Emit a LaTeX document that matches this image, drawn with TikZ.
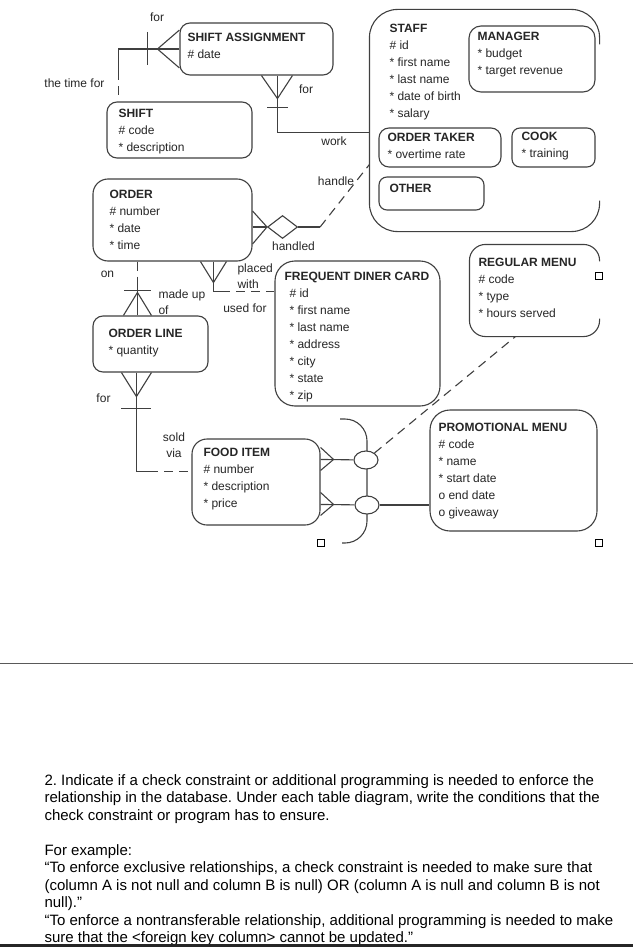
\documentclass[tikz,border=0pt]{standalone}
\usepackage{fontspec}
\setmainfont{Liberation Sans}
\usetikzlibrary{shapes,positioning,calc}
\newcommand{\myLineColor}{black!75}
\newcommand{\myTextColor}{black!85}
\frenchspacing

\begin{document}
\begin{tikzpicture}[x=1pt,y=-1pt,line width=1.1pt,
	Entity/.style={rectangle,rounded corners=10pt,draw=\myLineColor,fill=white,inner sep=0pt},
	Attr/.style={anchor=north west,inner sep=0pt,align=left,text=\myTextColor,font=\fontsize{12}{17}\selectfont},
	Link/.style={-,draw=\myLineColor,line width=1.1pt},
	OptLink/.style={Link,dash pattern=on 9pt off 6pt},
	RelLabel/.style={inner sep=0pt,text=\myTextColor,font=\fontsize{12}{16}\selectfont},
	NonTransfer/.style={diamond,draw=\myLineColor,fill=white,minimum width=30pt,minimum height=23pt,inner sep=0pt},
	ArcMark/.style={ellipse,draw=\myLineColor,fill=white,minimum width=24pt,minimum height=18pt,inner sep=0pt},
	Handle/.style={rectangle,draw=black,fill=white,line width=0.8pt,minimum size=6.5pt,inner sep=0pt},
]
	\useasboundingbox (0,0) rectangle (633,947);
	%\draw[help lines,step=50,gray!20] (0,0) grid (633,947);

	% entities
	\node[Entity,minimum width=153pt,minimum height=52pt] (shiftasg) at (256.5,49) {};
	\node[Entity,minimum width=145pt,minimum height=56pt] (shift) at (179.5,130) {};
	\node[Entity,draw=none,fill=none,minimum width=229pt,minimum height=221pt] (staff) at (484.5,120.5) {};
	\draw[Link,rounded corners=28pt] ($(staff.north east)+(0,35)$) -- (staff.north east) -- (staff.north west)
		-- (staff.south west) -- (staff.south east) -- ($(staff.south east)+(0,-31)$);
	\node[Entity,rounded corners=12pt,minimum width=126pt,minimum height=66pt] (manager) at (532,59) {};
	\node[Entity,minimum width=122pt,minimum height=39pt] (ordertaker) at (440,147.5) {};
	\node[Entity,rounded corners=8pt,minimum width=83pt,minimum height=39pt] (cook) at (553.5,147.5) {};
	\node[Entity,rounded corners=8pt,minimum width=105pt,minimum height=33pt] (other) at (431.5,193.5) {};
	\node[Entity,rounded corners=15pt,minimum width=159pt,minimum height=82pt] (order) at (172.5,220) {};
	\node[Entity,minimum width=115pt,minimum height=56pt] (orderline) at (150.5,344) {};
	\node[Entity,rounded corners=20pt,minimum width=165pt,minimum height=145pt] (fdc) at (357.5,333.5) {};
	\node[Entity,draw=none,fill=none,minimum width=129pt,minimum height=91pt] (regmenu) at (534.5,290.5) {};
	\draw[Link,rounded corners=16pt] ($(regmenu.north east)+(0,17)$) -- (regmenu.north east) -- (regmenu.north west)
		-- (regmenu.south west) -- (regmenu.south east) -- ($(regmenu.south east)+(0,-18)$);
	\node[Entity,rounded corners=15pt,minimum width=128pt,minimum height=86pt] (fooditem) at (256,482) {};
	\node[Entity,rounded corners=20pt,minimum width=167pt,minimum height=121pt] (promo) at (513.5,470.5) {};

	% entity texts
	\node[Attr] (shiftasgT) at (187,33) {\textbf{SHIFT ASSIGNMENT}\\\# date};
	\node[Attr] (shiftT) at (118,109) {\textbf{SHIFT}\\\# code\\* description};
	\node[Attr] (staffT) at (389,24) {\textbf{STAFF}\\\# id\\* first name\\* last name\\* date of birth\\* salary};
	\node[Attr] (managerT) at (477,32) {\textbf{MANAGER}\\* budget\\* target revenue};
	\node[Attr] (ordertakerT) at (387,132.5) {\textbf{ORDER TAKER}\\* overtime rate};
	\node[Attr] (cookT) at (521,132) {\textbf{COOK}\\* training};
	\node[Attr] (otherT) at (389,184) {\textbf{OTHER}};
	\node[Attr] (orderT) at (109,190) {\textbf{ORDER}\\\# number\\* date\\* time};
	\node[Attr] (orderlineT) at (108,328.5) {\textbf{ORDER LINE}\\* quantity};
	\node[Attr] (fdcT) at (284,272) {\textbf{FREQUENT DINER CARD}\\\hspace*{5pt}\# id\\\hspace*{5pt}* first name
		\\\hspace*{5pt}* last name\\\hspace*{5pt}* address\\\hspace*{5pt}* city\\\hspace*{5pt}* state\\\hspace*{5pt}* zip};
	\node[Attr] (regmenuT) at (478,258) {\textbf{REGULAR MENU}\\\# code\\* type\\* hours served};
	\node[Attr] (fooditemT) at (203,448) {\textbf{FOOD ITEM}\\\# number\\* description\\* price};
	\node[Attr] (promoT) at (438,422.5) {\textbf{PROMOTIONAL MENU}\\\# code\\* name\\* start date\\o end date\\o giveaway};

	% shift assignment -- shift
	\coordinate (saApex) at ($(shiftasg.west)+(-22,0)$);
	\coordinate (shTop) at ($(shift.north west)+(12,0)$);
	\coordinate (saMid) at ($(shTop)+(0,-30)$);
	\draw[Link] ($(shiftasg.west)+(0,-19)$) -- (saApex) -- ($(shiftasg.west)+(0,19)$);
	\draw[Link] (shiftasg.west) -- (saApex);
	\draw[Link] ($(saApex)+(-10,-17)$) -- ($(saApex)+(-10,16)$);
	\draw[Link] (saApex) -| (saMid);
	\draw[OptLink] (saMid) -- (shTop);

	% shift assignment -- staff
	\coordinate (saS) at ($(shiftasg.south west)+(98,0)$);
	\coordinate (saApex2) at ($(saS)+(0,23)$);
	\coordinate (stW1) at ($(staff.north west)+(0,123)$);
	\draw[Link] ($(saS)+(-16,0)$) -- (saApex2) -- ($(saS)+(15,0)$);
	\draw[Link] (saS) -- (saApex2);
	\draw[Link] ($(saApex2)+(-10,9)$) -- ($(saApex2)+(11,9)$);
	\draw[Link] (saApex2) |- (stW1);

	% order -- staff (nontransferable)
	\coordinate (oE) at ($(order.east)+(0,7)$);
	\node[NonTransfer] (hDiam) at ($(oE)+(30,0)$) {};
	\coordinate (hBend) at ($(hDiam.east)+(22,0)$);
	\coordinate (stW2) at ($(staff.north west)+(0,155)$);
	\draw[Link] ($(oE)+(0,-16)$) -- (hDiam.west) -- ($(oE)+(0,17)$);
	\draw[Link] (oE) -- (hDiam.west);
	\draw[Link] (hDiam.east) -- (hBend);
	\draw[OptLink] (hBend) -- (stW2);

	% order -- order line
	\coordinate (oS1) at ($(order.south west)+(45,0)$);
	\coordinate (olN) at ($(orderline.north west)+(45,0)$);
	\coordinate (olApex) at ($(olN)+(0,-23)$);
	\coordinate (oOnMid) at ($(olApex)+(0,-7)$);
	\draw[OptLink] (oS1) -- (oOnMid);
	\draw[Link] (oOnMid) -- (olApex);
	\draw[Link] ($(olApex)+(-13,-2)$) -- ($(olApex)+(14,-2)$);
	\draw[Link] ($(olN)+(-14,0)$) -- (olApex) -- ($(olN)+(14,0)$);
	\draw[Link] (olN) -- (olApex);

	% order line -- food item
	\coordinate (olS) at ($(orderline.south west)+(44,0)$);
	\coordinate (olApex2) at ($(olS)+(0,24)$);
	\coordinate (fiW) at ($(fooditem.north west)+(0,33)$);
	\coordinate (soldMid) at ($(fiW)+(-42,0)$);
	\draw[Link] ($(olS)+(-15,0)$) -- (olApex2) -- ($(olS)+(15,0)$);
	\draw[Link] (olS) -- (olApex2);
	\draw[Link] ($(olApex2)+(-15,12)$) -- ($(olApex2)+(15,12)$);
	\draw[Link] (olApex2) |- (soldMid);
	\draw[OptLink] (soldMid) -- (fiW);

	% order -- frequent diner card
	\coordinate (oS2) at ($(order.south west)+(121,0)$);
	\coordinate (pwApex) at ($(oS2)+(0,21)$);
	\coordinate (fdcW) at ($(fdc.north west)+(0,31)$);
	\coordinate (pwMid) at ($(fdcW)+(-53,0)$);
	\draw[Link] ($(oS2)+(-13,0)$) -- (pwApex) -- ($(oS2)+(13,0)$);
	\draw[Link] (oS2) -- (pwApex);
	\draw[Link] (pwApex) |- (pwMid);
	\draw[OptLink] (pwMid) -- (fdcW);

	% food item -- menus (arc)
	\draw[Link,rounded corners=22pt] (340,419) -- (367,419) -- (367,543) -- (342,543);
	\node[ArcMark] (mc1) at (366,460) {};
	\node[ArcMark] (mc2) at (367,505) {};
	\coordinate (fiE1) at ($(fooditem.north east)+(0,21)$);
	\coordinate (fiE2) at ($(fooditem.north east)+(0,66)$);
	\coordinate (rmS) at ($(regmenu.south west)+(46,0)$);
	\draw[Link] ($(fiE1)+(0,-12)$) -- ($(fiE1)+(13,0)$) -- ($(fiE1)+(0,11)$);
	\draw[Link] (fiE1) -- (mc1);
	\draw[Link] ($(fiE2)+(0,-12)$) -- ($(fiE2)+(13,0)$) -- ($(fiE2)+(0,11)$);
	\draw[Link] (fiE2) -- (mc2);
	\draw[OptLink] (mc1) -- (rmS);
	\draw[Link] (mc2) -- (mc2 -| promo.west);

	% labels
	\node[RelLabel] (lFor1) at (157,17) {for};
	\node[RelLabel,anchor=east] (lTimeFor) at (105,83) {the time for};
	\node[RelLabel] (lFor2) at (306,89) {for};
	\node[RelLabel] (lWork) at (334,141) {work};
	\node[RelLabel] (lHandle) at (336,181) {handle};
	\node[RelLabel] (lHandled) at (293.5,246) {handled};
	\node[RelLabel] (lOn) at (107.5,274) {on};
	\node[RelLabel,anchor=west,align=left] (lMadeUp) at (158,302) {made up\\of};
	\node[RelLabel,anchor=west,align=left] (lPlaced) at (237,276.5) {placed\\with};
	\node[RelLabel] (lUsedFor) at (245,308) {used for};
	\node[RelLabel] (lFor3) at (103.5,398) {for};
	\node[RelLabel,align=center] (lSold) at (174,445) {sold\\via};

	% selection handles
	\node[Handle] (hdl1) at (599,276) {};
	\node[Handle] (hdl2) at (599,543) {};
	\node[Handle] (hdl3) at (321,543) {};

	% question text
	\coordinate (sepL) at (0,663.5);
	\coordinate (sepR) at (633,663.5);
	\draw[black!65,line width=1pt] (sepL) -- (sepR);
	\node[anchor=north west,inner sep=0pt,align=left,font=\fontsize{15}{17.5}\selectfont] (task) at (44,774) {%
		2. Indicate if a check constraint or additional programming is needed to enforce the\\
		relationship in the database. Under each table diagram, write the conditions that the\\
		check constraint or program has to ensure.\\[17.5pt]
		For example:\\
		“To enforce exclusive relationships, a check constraint is needed to make sure that\\
		(column A is not null and column B is null) OR (column A is null and column B is not\\
		null).”\\
		“To enforce a nontransferable relationship, additional programming is needed to make\\
		sure that the <foreign key column> cannot be updated.”};
	\fill[black!85] (0,943.5) rectangle (633,947);
\end{tikzpicture}
\end{document}
